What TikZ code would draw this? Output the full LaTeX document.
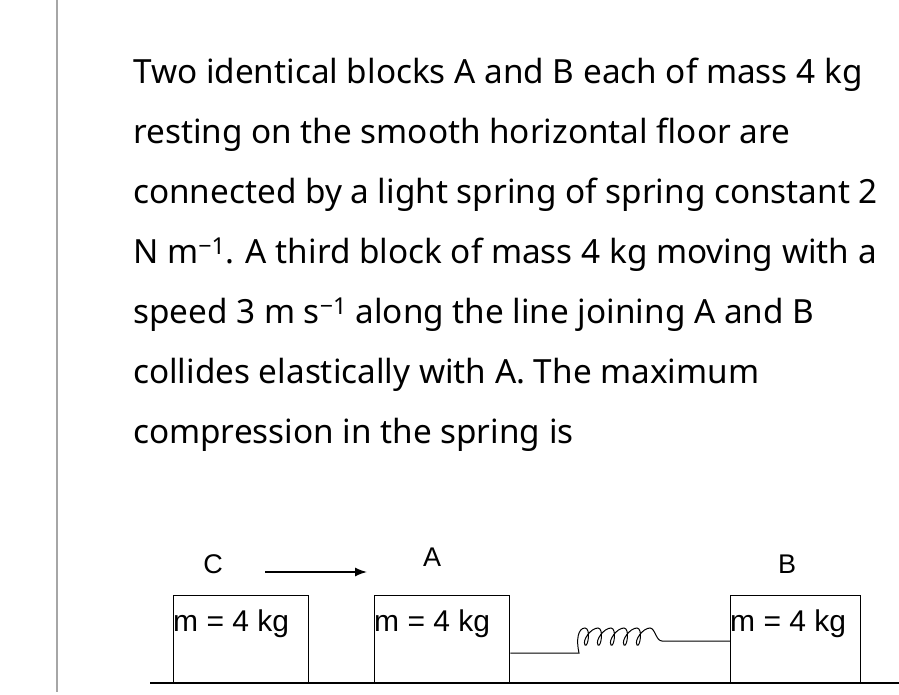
\documentclass[tikz,border=0pt]{standalone}
\usepackage{fontspec}
\setmainfont{Noto Sans}
\newfontfamily\diag{Liberation Sans}
\usetikzlibrary{arrows.meta}
\begin{document}
\begin{tikzpicture}[x=1pt,y=-1pt,
  txt/.style={anchor=west,inner sep=0,font=\fontsize{33.3}{35}\selectfont},
  blk/.style={draw,line width=1.3pt,minimum width=135pt,minimum height=87pt,anchor=south west,inner sep=0},
  lbl/.style={font=\diag\fontsize{27}{28}\selectfont,inner sep=0},
  mlbl/.style={font=\diag\fontsize{30}{31}\selectfont,inner sep=0,anchor=west}]
\useasboundingbox (0,0) rectangle (899,695);
\fill[white] (0,0) rectangle (899,695);
\draw[gray!70,line width=1.5pt] (57,0) -- (57,692);
\node[txt] (l1) at (133,75) {Two identical blocks A and B each of mass 4 kg};
\node[txt] (l2) at (133,135) {resting on the smooth horizontal floor are};
\node[txt] (l3) at (133,195) {connected by a light spring of spring constant 2};
\node[txt] (l4) at (133,255) {N m\textsuperscript{−1}. A third block of mass 4 kg moving with a};
\node[txt] (l5) at (133,315) {speed 3 m s\textsuperscript{−1} along the line joining A and B};
\node[txt] (l6) at (133,375) {collides elastically with A. The maximum};
\node[txt] (l7) at (133,435) {compression in the spring is};
\draw[line width=1.5pt] (150,683) -- (899,683);
\node[blk] (C) at (173,683) {};
\node[blk] (A) at (374,683) {};
\node[blk,minimum width=130pt] (B) at (730,683) {};
\node[mlbl] at (C.west|-0,624) {m = 4 kg};
\node[mlbl] at (A.west|-0,624) {m = 4 kg};
\node[mlbl] at (B.west|-0,624) {m = 4 kg};
\node[lbl] (lc) at (213,564) {C};
\node[lbl] (la) at (432,557) {A};
\node[lbl] (lb) at (787,564) {B};
\coordinate (a1) at (265,572); \coordinate (a2) at (367,572);
\draw[line width=1.5pt,-{Latex[length=12pt,width=9pt]}] (a1) -- (a2);
\coordinate (s0) at (A.east|-0,653);
\coordinate (s1) at (579,653);
\draw[line width=1pt] (s0) -- (s1)
 .. controls (576,640) and (578,628) .. (585,628)
 \foreach \i in {0,...,4}{ .. controls ({585+\i*13+6},628) and ({585+\i*13+3},648) .. ({585+\i*13},645) .. controls ({585+\i*13-3},640) and ({585+\i*13+6},628) .. ({585+\i*13+13},628)}
 .. controls (655,628) and (656,641) .. (662,641) -- (B.west|-0,641);
\end{tikzpicture}
\end{document}
